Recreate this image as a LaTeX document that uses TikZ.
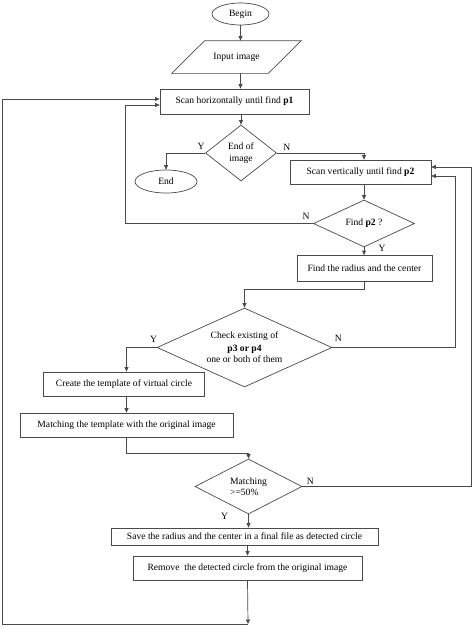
\documentclass[tikz,border=0pt]{standalone}
\usepackage{fontspec}
\setmainfont{Liberation Serif}
\usetikzlibrary{arrows.meta, positioning, shapes.geometric}
\definecolor{cline}{HTML}{4A4A4A}
\newcommand{\fsz}{\fontsize{9.6}{11.5}\selectfont}
\tikzset{
  every picture/.style={line width=0.7pt},
  proc/.style={draw=cline, rectangle, inner sep=0pt, font=\fsz, text=black},
  terminal/.style={draw=cline, ellipse, inner sep=0pt, font=\fsz},
  decision/.style={draw=cline, diamond, inner sep=0pt, align=center, font=\fsz},
  iobox/.style={rectangle, inner sep=0pt, font=\fsz},
  lbl/.style={font=\fsz, inner sep=0pt},
  line/.style={-{Triangle[length=4.5pt, width=4pt]}, draw=cline},
}

\begin{document}
\begin{tikzpicture}[x=1pt, y=-1pt]
  \useasboundingbox (0,0) rectangle (474,629);
  % start
  \node[terminal, minimum width=57pt, minimum height=22pt] (begin) at (240.5,14) {Begin};
  \node[iobox, minimum width=96pt, minimum height=32pt] (input) at (236.5,57) {Input image};
  \draw[cline] ([xshift=-16.5pt]input.south west) -- ([xshift=-16.5pt]input.south east)
    -- ([xshift=16.5pt]input.north east) -- ([xshift=16.5pt]input.north west) -- cycle;
  \node[proc, minimum width=149pt, minimum height=25pt] (scanh) at (234.5,101.5) {Scan horizontally until find \textbf{p1}};
  \draw[line] (begin.south) -- (begin.south |- input.north);
  \draw[line] (begin.south |- input.south) -- (begin.south |- scanh.north);
  % end of image test
  \node[decision, aspect=1.27, minimum width=71pt, minimum height=56pt] (endimg) at (241,153) {End of\\image};
  \node[terminal, minimum width=62pt, minimum height=23pt] (end) at (166,181.5) {End};
  \draw[line] (scanh.south -| endimg.north) -- (endimg.north);
  \draw[line] (endimg.west) -| (end.north);
  \node[lbl] (ya) at ([xshift=-4pt, yshift=7pt]endimg.west) {Y};
  \node[lbl] (na) at ([xshift=10pt, yshift=6pt]endimg.east) {N};
  % vertical scan
  \node[proc, minimum width=141pt, minimum height=24pt] (scanv) at (360.5,172) {Scan vertically until find \textbf{p2}};
  \node[decision, aspect=2.15, minimum width=101pt, minimum height=47pt] (findp2) at (364,223.5) {Find \textbf{p2} ?};
  \node[proc, minimum width=135pt, minimum height=26pt] (radius) at (364.5,268.5) {Find the radius and the center};
  \draw[line] (endimg.east) -| (scanv.north -| findp2.north);
  \draw[line] (scanv.south -| findp2.north) -- (findp2.north);
  \draw[line] (findp2.south) -- (findp2.south |- radius.north);
  \draw[line] (findp2.west) -| ([xshift=-34pt, yshift=-3.5pt]scanh.west) -- ([yshift=-3.5pt]scanh.west);
  \node[lbl] (nb) at ([xshift=-7pt, yshift=7.5pt]findp2.west) {N};
  \node[lbl] (yb) at ([xshift=18pt, yshift=-1.5pt]findp2.south) {Y};
  % p3 / p4 test
  \node[decision, aspect=2.2, minimum width=175pt, minimum height=79pt] (check) at (244.5,347.5) {Check existing of\\[1pt]\textbf{p3 or p4}\\one or both of them};
  \draw[line] (findp2.south |- radius.south) -- ++(0,7) -| (check.north);
  \node[proc, minimum width=161pt, minimum height=24pt] (create) at (124,384) {Create the template of virtual circle};
  \node[proc, minimum width=213pt, minimum height=24pt] (match) at (126.5,425) {Matching the template with the original image};
  \draw[line] (check.west) -| (match.north |- create.north);
  \draw[line] (match.north |- create.south) -- (match.north);
  \draw[line] (check.east) -| ([xshift=24pt, yshift=-4pt]scanv.east) -- ([yshift=-4pt]scanv.east);
  \node[lbl] (yc) at ([xshift=-3pt, yshift=8.5pt]check.west) {Y};
  \node[lbl] (nc) at ([xshift=6pt, yshift=9.5pt]check.east) {N};
  % matching test
  \node[decision, aspect=1.95, minimum width=107pt, minimum height=55pt, align=left] (thresh) at (248.5,486.5) {Matching\\{>=50\%}};
  \draw[line] (match.south) -- ++(0,16) -| (thresh.north);
  \draw[line] (thresh.east) -| ([xshift=40pt, yshift=5pt]scanv.east) -- ([yshift=5pt]scanv.east);
  \node[lbl] (nd) at ([xshift=8pt, yshift=5.5pt]thresh.east) {N};
  \node[lbl] (yd) at ([xshift=-24pt, yshift=-2pt]thresh.south) {Y};
  % save and remove
  \node[proc, minimum width=267pt, minimum height=17pt] (save) at (244.5,536.5) {Save the radius and the center in a final file as detected circle};
  \node[proc, minimum width=229pt, minimum height=24pt] (remove) at (247.5,568) {Remove\ \ the detected circle from the original image};
  \draw[line] (thresh.south) -- (thresh.south |- save.north);
  \draw[line] (remove.north |- save.south) -- (remove.north);
  % back to the start
  \coordinate (loopend) at (248,624);
  \draw[line] (remove.south) -- (loopend);
  \draw[line] (loopend) -| ([xshift=-157pt, yshift=2.5pt]scanh.west) -- ([yshift=2.5pt]scanh.west);
\end{tikzpicture}
\end{document}
